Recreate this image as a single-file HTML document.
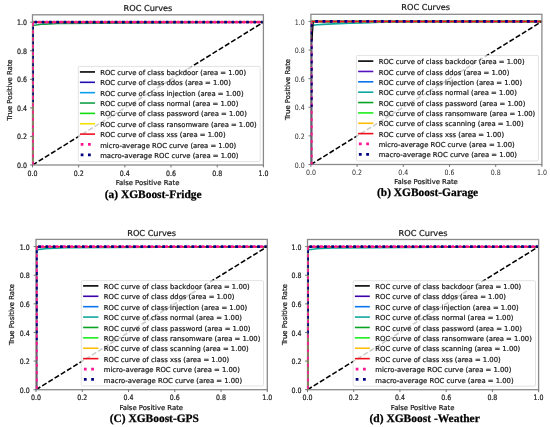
<!DOCTYPE html><html><head><meta charset="utf-8"><title>ROC Curves</title><style>html,body{margin:0;padding:0;background:#fff;width:550px;height:427px;overflow:hidden}svg{display:block;text-rendering:geometricPrecision}.m{font-family:"DejaVu Sans","Liberation Sans",sans-serif;fill:#1a1a1a;stroke:#1a1a1a;stroke-width:0.22px}.mt{font-family:"DejaVu Sans","Liberation Sans",sans-serif;fill:#2a2a2a}.cap{font-family:"Liberation Serif","Times New Roman",serif;font-weight:bold;fill:#000;stroke:#000;stroke-width:0.25px}</style></head><body>
<svg width="550" height="427" viewBox="0 0 550 427">
<rect width="550" height="427" fill="#fff"/>
<defs><filter id="bl" x="0" y="0" width="100%" height="100%" color-interpolation-filters="sRGB"><feGaussianBlur stdDeviation="0.4"/></filter>
<clipPath id="cla"><rect x="32.5" y="14.8" width="230.9" height="150.2"/></clipPath>
<clipPath id="clb"><rect x="310.9" y="14.3" width="231" height="150.2"/></clipPath>
<clipPath id="clc"><rect x="36" y="239.4" width="231.3" height="150.3"/></clipPath>
<clipPath id="cld"><rect x="307.5" y="239.5" width="231.1" height="150.2"/></clipPath>
</defs>
<g filter="url(#bl)"><rect width="550" height="427" fill="#fff"/>
<g id="pa">
<text class="m" x="147.95" y="11" font-size="8.2" text-anchor="middle">ROC Curves</text>
<g clip-path="url(#cla)" fill="none">
<path d="M32.5 165L32.5 22.2L263.4 22.2" stroke="#000000" stroke-width="1.38"/>
<path d="M32.5 165L32.5 22.2L263.4 22.2" stroke="#1e0eb0" stroke-width="1.38"/>
<path d="M32.5 165L32.5 22.2L263.4 22.2" stroke="#089ef0" stroke-width="1.38"/>
<path d="M32.5 165L32.5 26.4L32.9 25.6L34 25.2L36 25L41.5 24.3L45.5 24.1L57.5 23.5L60.5 23.4L263.4 22.2" stroke="#14a048" stroke-width="1.6"/>
<path d="M32.5 165L32.5 22.2L263.4 22.2" stroke="#10dc10" stroke-width="1.38"/>
<path d="M32.5 165L32.5 22.2L263.4 22.2" stroke="#f5e000" stroke-width="1.38"/>
<path d="M32.5 165L32.5 22.2L263.4 22.2" stroke="#f01020" stroke-width="1.38"/>
<path d="M32.5 22.2L263.4 22.2" stroke="#ff1493" stroke-width="2.76" stroke-dasharray="2.76 4.54" stroke-dashoffset="1.68"/>
<path d="M32.5 22.2L263.4 22.2" stroke="#000080" stroke-width="2.76" stroke-dasharray="2.76 4.54" stroke-dashoffset="5.38"/>
<path d="M32.5 165L263.4 22.2" stroke="#000" stroke-width="1.55" stroke-dasharray="5.11 2.19"/>
</g>
<rect x="32.5" y="14.8" width="230.9" height="150.2" fill="none" stroke="#8a8a8a" stroke-width="1.3"/>
<path d="M33.1 165V26.2" stroke="#8a7c58" stroke-width="1.4" fill="none"/>
<path d="M33.1 22.2L33.1 165" stroke="#ff1493" stroke-width="1.6" stroke-dasharray="2.76 4.54" stroke-dashoffset="6.38" fill="none"/>
<path d="M33.1 22.2L33.1 102" stroke="#000080" stroke-width="1.6" stroke-dasharray="2.76 4.54" stroke-dashoffset="2.68" fill="none"/>
<text class="m" x="32.5" y="175.6" font-size="7.4" text-anchor="middle" textLength="10.0" lengthAdjust="spacingAndGlyphs">0.0</text>
<text class="m" x="26.9" y="168.05" font-size="7.4" text-anchor="end" textLength="10.0" lengthAdjust="spacingAndGlyphs">0.0</text>
<text class="m" x="78.68" y="175.6" font-size="7.4" text-anchor="middle" textLength="10.0" lengthAdjust="spacingAndGlyphs">0.2</text>
<text class="m" x="26.9" y="139.49" font-size="7.4" text-anchor="end" textLength="10.0" lengthAdjust="spacingAndGlyphs">0.2</text>
<text class="m" x="124.86" y="175.6" font-size="7.4" text-anchor="middle" textLength="10.0" lengthAdjust="spacingAndGlyphs">0.4</text>
<text class="m" x="26.9" y="110.93" font-size="7.4" text-anchor="end" textLength="10.0" lengthAdjust="spacingAndGlyphs">0.4</text>
<text class="m" x="171.04" y="175.6" font-size="7.4" text-anchor="middle" textLength="10.0" lengthAdjust="spacingAndGlyphs">0.6</text>
<text class="m" x="26.9" y="82.37" font-size="7.4" text-anchor="end" textLength="10.0" lengthAdjust="spacingAndGlyphs">0.6</text>
<text class="m" x="217.22" y="175.6" font-size="7.4" text-anchor="middle" textLength="10.0" lengthAdjust="spacingAndGlyphs">0.8</text>
<text class="m" x="26.9" y="53.81" font-size="7.4" text-anchor="end" textLength="10.0" lengthAdjust="spacingAndGlyphs">0.8</text>
<text class="m" x="263.4" y="175.6" font-size="7.4" text-anchor="middle" textLength="10.0" lengthAdjust="spacingAndGlyphs">1.0</text>
<text class="m" x="26.9" y="25.25" font-size="7.4" text-anchor="end" textLength="10.0" lengthAdjust="spacingAndGlyphs">1.0</text>
<path d="M32.5 165v2.4M32.5 165h-2.4M78.68 165v2.4M32.5 136.44h-2.4M124.86 165v2.4M32.5 107.88h-2.4M171.04 165v2.4M32.5 79.32h-2.4M217.22 165v2.4M32.5 50.76h-2.4M263.4 165v2.4M32.5 22.2h-2.4" stroke="#666" stroke-width="0.9" fill="none"/>
<text class="m" x="147.55" y="184.9" font-size="6.85" text-anchor="middle">False Positive Rate</text>
<text class="m" transform="translate(11.6 89.9) rotate(-90)" font-size="6.85" text-anchor="middle">True Positive Rate</text>
<rect x="78.3" y="66.4" width="181.9" height="95.2" rx="1.4" fill="#fff" fill-opacity="0.8" stroke="#cccccc" stroke-opacity="0.8" stroke-width="0.7"/>
<path d="M79.9 71.95H95" stroke="#000000" stroke-width="1.6"/>
<text class="m" x="100.2" y="75.05" font-size="6.83">ROC curve of class backdoor (area = 1.00)</text>
<path d="M79.9 82.31H95" stroke="#1e0eb0" stroke-width="1.6"/>
<text class="m" x="100.2" y="85.41" font-size="6.83">ROC curve of class ddos (area = 1.00)</text>
<path d="M79.9 92.67H95" stroke="#089ef0" stroke-width="1.6"/>
<text class="m" x="100.2" y="95.77" font-size="6.83">ROC curve of class injection (area = 1.00)</text>
<path d="M79.9 103.03H95" stroke="#14a048" stroke-width="1.6"/>
<text class="m" x="100.2" y="106.13" font-size="6.83">ROC curve of class normal (area = 1.00)</text>
<path d="M79.9 113.39H95" stroke="#10dc10" stroke-width="1.6"/>
<text class="m" x="100.2" y="116.49" font-size="6.83">ROC curve of class password (area = 1.00)</text>
<path d="M79.9 123.75H95" stroke="#f5e000" stroke-width="1.6"/>
<text class="m" x="100.2" y="126.85" font-size="6.83">ROC curve of class ransomware (area = 1.00)</text>
<path d="M79.9 134.11H95" stroke="#f01020" stroke-width="1.6"/>
<text class="m" x="100.2" y="137.21" font-size="6.83">ROC curve of class xss (area = 1.00)</text>
<path d="M80.7 144.47H90.76" stroke="#ff1493" stroke-width="2.76" stroke-dasharray="2.76 4.54"/>
<text class="m" x="100.2" y="147.57" font-size="6.83">micro-average ROC curve (area = 1.00)</text>
<path d="M80.7 154.83H90.76" stroke="#000080" stroke-width="2.76" stroke-dasharray="2.76 4.54"/>
<text class="m" x="100.2" y="157.93" font-size="6.83">macro-average ROC curve (area = 1.00)</text>
<text class="cap" x="104.7" y="197.6" font-size="11.44" textLength="96.9" lengthAdjust="spacingAndGlyphs">(a) XGBoost-Fridge</text>
</g>
<g id="pb">
<text class="m" x="425.7" y="9.9" font-size="8.2" text-anchor="middle">ROC Curves</text>
<g clip-path="url(#clb)" fill="none">
<path d="M310.9 164.5L310.9 21.45L541.9 21.45" stroke="#000000" stroke-width="1.38"/>
<path d="M310.9 164.5L310.9 21.45L541.9 21.45" stroke="#5612c0" stroke-width="1.38"/>
<path d="M310.9 164.5L310.9 21.45L541.9 21.45" stroke="#0a74ea" stroke-width="1.38"/>
<path d="M310.9 164.5L310.9 25.75L311.9 25.45L313.1 25.2L316.9 24.75L322.9 24.35L332.9 23.85L349.9 23.25L362.9 22.85L380.9 22.25L410.9 21.75L541.9 21.45" stroke="#0ea89e" stroke-width="1.6"/>
<path d="M310.9 164.5L310.9 21.45L541.9 21.45" stroke="#08a424" stroke-width="1.38"/>
<path d="M310.9 164.5L310.9 21.45L541.9 21.45" stroke="#1cee1c" stroke-width="1.38"/>
<path d="M310.9 164.5L310.9 21.45L541.9 21.45" stroke="#ffbe08" stroke-width="1.38"/>
<path d="M310.9 164.5L310.9 21.45L541.9 21.45" stroke="#f00c18" stroke-width="1.38"/>
<path d="M310.9 21.45L541.9 21.45" stroke="#ff1493" stroke-width="2.76" stroke-dasharray="2.76 4.54" stroke-dashoffset="2.48"/>
<path d="M310.9 21.45L541.9 21.45" stroke="#000080" stroke-width="2.76" stroke-dasharray="2.76 4.54" stroke-dashoffset="2.98"/>
<path d="M310.9 164.5L541.9 21.45" stroke="#000" stroke-width="1.55" stroke-dasharray="5.11 2.19"/>
</g>
<rect x="310.9" y="14.3" width="231" height="150.2" fill="none" stroke="#8a8a8a" stroke-width="1.3"/>
<path d="M311.7 164.5V25.45" stroke="#6a5a70" stroke-width="1.7" fill="none"/>
<path d="M311.7 21.45L311.7 164.5" stroke="#ff1493" stroke-width="1.9" stroke-dasharray="2.76 4.54" stroke-dashoffset="5.43" fill="none"/>
<path d="M311.7 21.45L311.7 107" stroke="#000080" stroke-width="1.9" stroke-dasharray="2.76 4.54" stroke-dashoffset="4.43" fill="none"/>
<path d="M312 40.45L313.3 22.25" stroke="#000" stroke-width="1.1" fill="none"/>
<text class="mt" x="310.9" y="175.1" font-size="7.4" text-anchor="middle" textLength="10.0" lengthAdjust="spacingAndGlyphs">0.0</text>
<text class="mt" x="304.8" y="167.55" font-size="7.4" text-anchor="end" textLength="10.0" lengthAdjust="spacingAndGlyphs">0.0</text>
<text class="mt" x="357.1" y="175.1" font-size="7.4" text-anchor="middle" textLength="10.0" lengthAdjust="spacingAndGlyphs">0.2</text>
<text class="mt" x="304.8" y="138.94" font-size="7.4" text-anchor="end" textLength="10.0" lengthAdjust="spacingAndGlyphs">0.2</text>
<text class="mt" x="403.3" y="175.1" font-size="7.4" text-anchor="middle" textLength="10.0" lengthAdjust="spacingAndGlyphs">0.4</text>
<text class="mt" x="304.8" y="110.33" font-size="7.4" text-anchor="end" textLength="10.0" lengthAdjust="spacingAndGlyphs">0.4</text>
<text class="mt" x="449.5" y="175.1" font-size="7.4" text-anchor="middle" textLength="10.0" lengthAdjust="spacingAndGlyphs">0.6</text>
<text class="mt" x="304.8" y="81.72" font-size="7.4" text-anchor="end" textLength="10.0" lengthAdjust="spacingAndGlyphs">0.6</text>
<text class="mt" x="495.7" y="175.1" font-size="7.4" text-anchor="middle" textLength="10.0" lengthAdjust="spacingAndGlyphs">0.8</text>
<text class="mt" x="304.8" y="53.11" font-size="7.4" text-anchor="end" textLength="10.0" lengthAdjust="spacingAndGlyphs">0.8</text>
<text class="mt" x="541.9" y="175.1" font-size="7.4" text-anchor="middle" textLength="10.0" lengthAdjust="spacingAndGlyphs">1.0</text>
<text class="mt" x="304.8" y="24.5" font-size="7.4" text-anchor="end" textLength="10.0" lengthAdjust="spacingAndGlyphs">1.0</text>
<path d="M310.9 164.5v2.4M310.9 164.5h-2.4M357.1 164.5v2.4M310.9 135.89h-2.4M403.3 164.5v2.4M310.9 107.28h-2.4M449.5 164.5v2.4M310.9 78.67h-2.4M495.7 164.5v2.4M310.9 50.06h-2.4M541.9 164.5v2.4M310.9 21.45h-2.4" stroke="#666" stroke-width="0.9" fill="none"/>
<text class="m" x="426" y="184.4" font-size="6.85" text-anchor="middle">False Positive Rate</text>
<text class="m" transform="translate(289.5 89.4) rotate(-90)" font-size="6.85" text-anchor="middle">True Positive Rate</text>
<rect x="356.4" y="55.45" width="182" height="105.55" rx="1.4" fill="#fff" fill-opacity="0.8" stroke="#cccccc" stroke-opacity="0.8" stroke-width="0.7"/>
<path d="M358.1 61.1H373.3" stroke="#000000" stroke-width="1.6"/>
<text class="m" x="378.7" y="64.2" font-size="6.83">ROC curve of class backdoor (area = 1.00)</text>
<path d="M358.1 71.46H373.3" stroke="#5612c0" stroke-width="1.6"/>
<text class="m" x="378.7" y="74.56" font-size="6.83">ROC curve of class ddos (area = 1.00)</text>
<path d="M358.1 81.82H373.3" stroke="#0a74ea" stroke-width="1.6"/>
<text class="m" x="378.7" y="84.92" font-size="6.83">ROC curve of class injection (area = 1.00)</text>
<path d="M358.1 92.18H373.3" stroke="#0ea89e" stroke-width="1.6"/>
<text class="m" x="378.7" y="95.28" font-size="6.83">ROC curve of class normal (area = 1.00)</text>
<path d="M358.1 102.54H373.3" stroke="#08a424" stroke-width="1.6"/>
<text class="m" x="378.7" y="105.64" font-size="6.83">ROC curve of class password (area = 1.00)</text>
<path d="M358.1 112.9H373.3" stroke="#1cee1c" stroke-width="1.6"/>
<text class="m" x="378.7" y="116" font-size="6.83">ROC curve of class ransomware (area = 1.00)</text>
<path d="M358.1 123.26H373.3" stroke="#ffbe08" stroke-width="1.6"/>
<text class="m" x="378.7" y="126.36" font-size="6.83">ROC curve of class scanning (area = 1.00)</text>
<path d="M358.1 133.62H373.3" stroke="#f00c18" stroke-width="1.6"/>
<text class="m" x="378.7" y="136.72" font-size="6.83">ROC curve of class xss (area = 1.00)</text>
<path d="M358.9 143.98H368.96" stroke="#ff1493" stroke-width="2.76" stroke-dasharray="2.76 4.54"/>
<text class="m" x="378.7" y="147.08" font-size="6.83">micro-average ROC curve (area = 1.00)</text>
<path d="M358.9 154.34H368.96" stroke="#000080" stroke-width="2.76" stroke-dasharray="2.76 4.54"/>
<text class="m" x="378.7" y="157.44" font-size="6.83">macro-average ROC curve (area = 1.00)</text>
<text class="cap" x="377.05" y="196.2" font-size="11.44" textLength="101.15" lengthAdjust="spacingAndGlyphs">(b) XGBoost-Garage</text>
</g>
<g id="pc">
<text class="m" x="151.65" y="235.6" font-size="8.2" text-anchor="middle">ROC Curves</text>
<g clip-path="url(#clc)" fill="none">
<path d="M36 389.7L36 246.6L267.3 246.6" stroke="#000000" stroke-width="1.38"/>
<path d="M36 389.7L36 246.6L267.3 246.6" stroke="#3c00a8" stroke-width="1.38"/>
<path d="M36 389.7L36 246.6L267.3 246.6" stroke="#0a74ea" stroke-width="1.38"/>
<path d="M36 389.7L36 250.8L36.4 250L37.5 249.6L39.5 249.4L45 248.7L49 248.5L61 247.9L64 247.8L267.3 246.6" stroke="#0ea89e" stroke-width="1.6"/>
<path d="M36 389.7L36 246.6L267.3 246.6" stroke="#08a424" stroke-width="1.38"/>
<path d="M36 389.7L36 246.6L267.3 246.6" stroke="#1cee1c" stroke-width="1.38"/>
<path d="M36 389.7L36 246.6L267.3 246.6" stroke="#ffbe08" stroke-width="1.38"/>
<path d="M36 389.7L36 246.6L267.3 246.6" stroke="#f00c18" stroke-width="1.38"/>
<path d="M36 246.6L267.3 246.6" stroke="#ff1493" stroke-width="2.76" stroke-dasharray="2.76 4.54" stroke-dashoffset="2.18"/>
<path d="M36 246.6L267.3 246.6" stroke="#000080" stroke-width="2.76" stroke-dasharray="2.76 4.54" stroke-dashoffset="5.18"/>
<path d="M36 389.7L267.3 246.6" stroke="#000" stroke-width="1.55" stroke-dasharray="5.11 2.19"/>
</g>
<rect x="36" y="239.4" width="231.3" height="150.3" fill="none" stroke="#8a8a8a" stroke-width="1.3"/>
<path d="M36.8 389.7V250.6" stroke="#6a5a70" stroke-width="1.7" fill="none"/>
<path d="M36.8 246.6L36.8 389.7" stroke="#ff1493" stroke-width="1.9" stroke-dasharray="2.76 4.54" stroke-dashoffset="6.68" fill="none"/>
<path d="M36.8 246.6L36.8 340" stroke="#000080" stroke-width="1.9" stroke-dasharray="2.76 4.54" stroke-dashoffset="3.68" fill="none"/>
<text class="m" x="36" y="400.3" font-size="7.4" text-anchor="middle" textLength="10.0" lengthAdjust="spacingAndGlyphs">0.0</text>
<text class="m" x="29.7" y="392.75" font-size="7.4" text-anchor="end" textLength="10.0" lengthAdjust="spacingAndGlyphs">0.0</text>
<text class="m" x="82.26" y="400.3" font-size="7.4" text-anchor="middle" textLength="10.0" lengthAdjust="spacingAndGlyphs">0.2</text>
<text class="m" x="29.7" y="364.13" font-size="7.4" text-anchor="end" textLength="10.0" lengthAdjust="spacingAndGlyphs">0.2</text>
<text class="m" x="128.52" y="400.3" font-size="7.4" text-anchor="middle" textLength="10.0" lengthAdjust="spacingAndGlyphs">0.4</text>
<text class="m" x="29.7" y="335.51" font-size="7.4" text-anchor="end" textLength="10.0" lengthAdjust="spacingAndGlyphs">0.4</text>
<text class="m" x="174.78" y="400.3" font-size="7.4" text-anchor="middle" textLength="10.0" lengthAdjust="spacingAndGlyphs">0.6</text>
<text class="m" x="29.7" y="306.89" font-size="7.4" text-anchor="end" textLength="10.0" lengthAdjust="spacingAndGlyphs">0.6</text>
<text class="m" x="221.04" y="400.3" font-size="7.4" text-anchor="middle" textLength="10.0" lengthAdjust="spacingAndGlyphs">0.8</text>
<text class="m" x="29.7" y="278.27" font-size="7.4" text-anchor="end" textLength="10.0" lengthAdjust="spacingAndGlyphs">0.8</text>
<text class="m" x="267.3" y="400.3" font-size="7.4" text-anchor="middle" textLength="10.0" lengthAdjust="spacingAndGlyphs">1.0</text>
<text class="m" x="29.7" y="249.65" font-size="7.4" text-anchor="end" textLength="10.0" lengthAdjust="spacingAndGlyphs">1.0</text>
<path d="M36 389.7v2.4M36 389.7h-2.4M82.26 389.7v2.4M36 361.08h-2.4M128.52 389.7v2.4M36 332.46h-2.4M174.78 389.7v2.4M36 303.84h-2.4M221.04 389.7v2.4M36 275.22h-2.4M267.3 389.7v2.4M36 246.6h-2.4" stroke="#666" stroke-width="0.9" fill="none"/>
<text class="m" x="151.25" y="409.6" font-size="6.85" text-anchor="middle">False Positive Rate</text>
<text class="m" transform="translate(14.1 314.55) rotate(-90)" font-size="6.85" text-anchor="middle">True Positive Rate</text>
<rect x="81.3" y="280.6" width="182.2" height="105.4" rx="1.4" fill="#fff" fill-opacity="0.8" stroke="#cccccc" stroke-opacity="0.8" stroke-width="0.7"/>
<path d="M83.1 285.9H98.4" stroke="#000000" stroke-width="1.6"/>
<text class="m" x="103.8" y="289" font-size="6.83">ROC curve of class backdoor (area = 1.00)</text>
<path d="M83.1 296.29H98.4" stroke="#3c00a8" stroke-width="1.6"/>
<text class="m" x="103.8" y="299.39" font-size="6.83">ROC curve of class ddos (area = 1.00)</text>
<path d="M83.1 306.68H98.4" stroke="#0a74ea" stroke-width="1.6"/>
<text class="m" x="103.8" y="309.78" font-size="6.83">ROC curve of class injection (area = 1.00)</text>
<path d="M83.1 317.07H98.4" stroke="#0ea89e" stroke-width="1.6"/>
<text class="m" x="103.8" y="320.17" font-size="6.83">ROC curve of class normal (area = 1.00)</text>
<path d="M83.1 327.46H98.4" stroke="#08a424" stroke-width="1.6"/>
<text class="m" x="103.8" y="330.56" font-size="6.83">ROC curve of class password (area = 1.00)</text>
<path d="M83.1 337.85H98.4" stroke="#1cee1c" stroke-width="1.6"/>
<text class="m" x="103.8" y="340.95" font-size="6.83">ROC curve of class ransomware (area = 1.00)</text>
<path d="M83.1 348.24H98.4" stroke="#ffbe08" stroke-width="1.6"/>
<text class="m" x="103.8" y="351.34" font-size="6.83">ROC curve of class scanning (area = 1.00)</text>
<path d="M83.1 358.63H98.4" stroke="#f00c18" stroke-width="1.6"/>
<text class="m" x="103.8" y="361.73" font-size="6.83">ROC curve of class xss (area = 1.00)</text>
<path d="M83.9 369.02H93.96" stroke="#ff1493" stroke-width="2.76" stroke-dasharray="2.76 4.54"/>
<text class="m" x="103.8" y="372.12" font-size="6.83">micro-average ROC curve (area = 1.00)</text>
<path d="M83.9 379.41H93.96" stroke="#000080" stroke-width="2.76" stroke-dasharray="2.76 4.54"/>
<text class="m" x="103.8" y="382.51" font-size="6.83">macro-average ROC curve (area = 1.00)</text>
<text class="cap" x="109.8" y="421.8" font-size="11.44" textLength="89.1" lengthAdjust="spacingAndGlyphs">(C) XGBoost-GPS</text>
</g>
<g id="pd">
<text class="m" x="423.05" y="235.7" font-size="8.2" text-anchor="middle">ROC Curves</text>
<g clip-path="url(#cld)" fill="none">
<path d="M307.5 389.7L307.5 246.65L538.6 246.65" stroke="#000000" stroke-width="1.38"/>
<path d="M307.5 389.7L307.5 246.65L538.6 246.65" stroke="#3c00a8" stroke-width="1.38"/>
<path d="M307.5 389.7L307.5 246.65L538.6 246.65" stroke="#0a74ea" stroke-width="1.38"/>
<path d="M307.5 389.7L307.5 250.85L307.9 250.05L309 249.65L311 249.45L316.5 248.75L320.5 248.55L332.5 247.95L335.5 247.85L538.6 246.65" stroke="#0ea89e" stroke-width="1.6"/>
<path d="M307.5 389.7L307.5 246.65L538.6 246.65" stroke="#08a424" stroke-width="1.38"/>
<path d="M307.5 389.7L307.5 246.65L538.6 246.65" stroke="#1cee1c" stroke-width="1.38"/>
<path d="M307.5 389.7L307.5 246.65L538.6 246.65" stroke="#ffbe08" stroke-width="1.38"/>
<path d="M307.5 389.7L307.5 246.65L538.6 246.65" stroke="#f00c18" stroke-width="1.38"/>
<path d="M307.5 246.65L538.6 246.65" stroke="#ff1493" stroke-width="2.76" stroke-dasharray="2.76 4.54" stroke-dashoffset="2.08"/>
<path d="M307.5 246.65L538.6 246.65" stroke="#000080" stroke-width="2.76" stroke-dasharray="2.76 4.54" stroke-dashoffset="5.38"/>
<path d="M307.5 389.7L538.6 246.65" stroke="#000" stroke-width="1.55" stroke-dasharray="5.11 2.19"/>
</g>
<rect x="307.5" y="239.5" width="231.1" height="150.2" fill="none" stroke="#8a8a8a" stroke-width="1.3"/>
<path d="M308.1 389.7V250.65" stroke="#8a7c58" stroke-width="1.5" fill="none"/>
<path d="M308.1 246.65L308.1 389.7" stroke="#ff1493" stroke-width="1.7" stroke-dasharray="2.76 4.54" stroke-dashoffset="6.73" fill="none"/>
<path d="M308.1 246.65L308.1 333.4" stroke="#000080" stroke-width="1.7" stroke-dasharray="2.76 4.54" stroke-dashoffset="3.63" fill="none"/>
<text class="m" x="307.5" y="400.3" font-size="7.4" text-anchor="middle" textLength="10.0" lengthAdjust="spacingAndGlyphs">0.0</text>
<text class="m" x="301.6" y="392.75" font-size="7.4" text-anchor="end" textLength="10.0" lengthAdjust="spacingAndGlyphs">0.0</text>
<text class="m" x="353.72" y="400.3" font-size="7.4" text-anchor="middle" textLength="10.0" lengthAdjust="spacingAndGlyphs">0.2</text>
<text class="m" x="301.6" y="364.14" font-size="7.4" text-anchor="end" textLength="10.0" lengthAdjust="spacingAndGlyphs">0.2</text>
<text class="m" x="399.94" y="400.3" font-size="7.4" text-anchor="middle" textLength="10.0" lengthAdjust="spacingAndGlyphs">0.4</text>
<text class="m" x="301.6" y="335.53" font-size="7.4" text-anchor="end" textLength="10.0" lengthAdjust="spacingAndGlyphs">0.4</text>
<text class="m" x="446.16" y="400.3" font-size="7.4" text-anchor="middle" textLength="10.0" lengthAdjust="spacingAndGlyphs">0.6</text>
<text class="m" x="301.6" y="306.92" font-size="7.4" text-anchor="end" textLength="10.0" lengthAdjust="spacingAndGlyphs">0.6</text>
<text class="m" x="492.38" y="400.3" font-size="7.4" text-anchor="middle" textLength="10.0" lengthAdjust="spacingAndGlyphs">0.8</text>
<text class="m" x="301.6" y="278.31" font-size="7.4" text-anchor="end" textLength="10.0" lengthAdjust="spacingAndGlyphs">0.8</text>
<text class="m" x="538.6" y="400.3" font-size="7.4" text-anchor="middle" textLength="10.0" lengthAdjust="spacingAndGlyphs">1.0</text>
<text class="m" x="301.6" y="249.7" font-size="7.4" text-anchor="end" textLength="10.0" lengthAdjust="spacingAndGlyphs">1.0</text>
<path d="M307.5 389.7v2.4M307.5 389.7h-2.4M353.72 389.7v2.4M307.5 361.09h-2.4M399.94 389.7v2.4M307.5 332.48h-2.4M446.16 389.7v2.4M307.5 303.87h-2.4M492.38 389.7v2.4M307.5 275.26h-2.4M538.6 389.7v2.4M307.5 246.65h-2.4" stroke="#666" stroke-width="0.9" fill="none"/>
<text class="m" x="422.65" y="409.6" font-size="6.85" text-anchor="middle">False Positive Rate</text>
<text class="m" transform="translate(286.6 314.6) rotate(-90)" font-size="6.85" text-anchor="middle">True Positive Rate</text>
<rect x="353.1" y="280.7" width="182.4" height="105.5" rx="1.4" fill="#fff" fill-opacity="0.8" stroke="#cccccc" stroke-opacity="0.8" stroke-width="0.7"/>
<path d="M354.9 285.9H369.8" stroke="#000000" stroke-width="1.6"/>
<text class="m" x="375.3" y="289" font-size="6.83">ROC curve of class backdoor (area = 1.00)</text>
<path d="M354.9 296.29H369.8" stroke="#3c00a8" stroke-width="1.6"/>
<text class="m" x="375.3" y="299.39" font-size="6.83">ROC curve of class ddos (area = 1.00)</text>
<path d="M354.9 306.68H369.8" stroke="#0a74ea" stroke-width="1.6"/>
<text class="m" x="375.3" y="309.78" font-size="6.83">ROC curve of class injection (area = 1.00)</text>
<path d="M354.9 317.07H369.8" stroke="#0ea89e" stroke-width="1.6"/>
<text class="m" x="375.3" y="320.17" font-size="6.83">ROC curve of class normal (area = 1.00)</text>
<path d="M354.9 327.46H369.8" stroke="#08a424" stroke-width="1.6"/>
<text class="m" x="375.3" y="330.56" font-size="6.83">ROC curve of class password (area = 1.00)</text>
<path d="M354.9 337.85H369.8" stroke="#1cee1c" stroke-width="1.6"/>
<text class="m" x="375.3" y="340.95" font-size="6.83">ROC curve of class ransomware (area = 1.00)</text>
<path d="M354.9 348.24H369.8" stroke="#ffbe08" stroke-width="1.6"/>
<text class="m" x="375.3" y="351.34" font-size="6.83">ROC curve of class scanning (area = 1.00)</text>
<path d="M354.9 358.63H369.8" stroke="#f00c18" stroke-width="1.6"/>
<text class="m" x="375.3" y="361.73" font-size="6.83">ROC curve of class xss (area = 1.00)</text>
<path d="M355.7 369.02H365.76" stroke="#ff1493" stroke-width="2.76" stroke-dasharray="2.76 4.54"/>
<text class="m" x="375.3" y="372.12" font-size="6.83">micro-average ROC curve (area = 1.00)</text>
<path d="M355.7 379.41H365.76" stroke="#000080" stroke-width="2.76" stroke-dasharray="2.76 4.54"/>
<text class="m" x="375.3" y="382.51" font-size="6.83">macro-average ROC curve (area = 1.00)</text>
<text class="cap" x="369.5" y="421.7" font-size="11.44" textLength="110.3" lengthAdjust="spacingAndGlyphs">(d) XGBoost -Weather</text>
</g>
</g></svg></body></html>
